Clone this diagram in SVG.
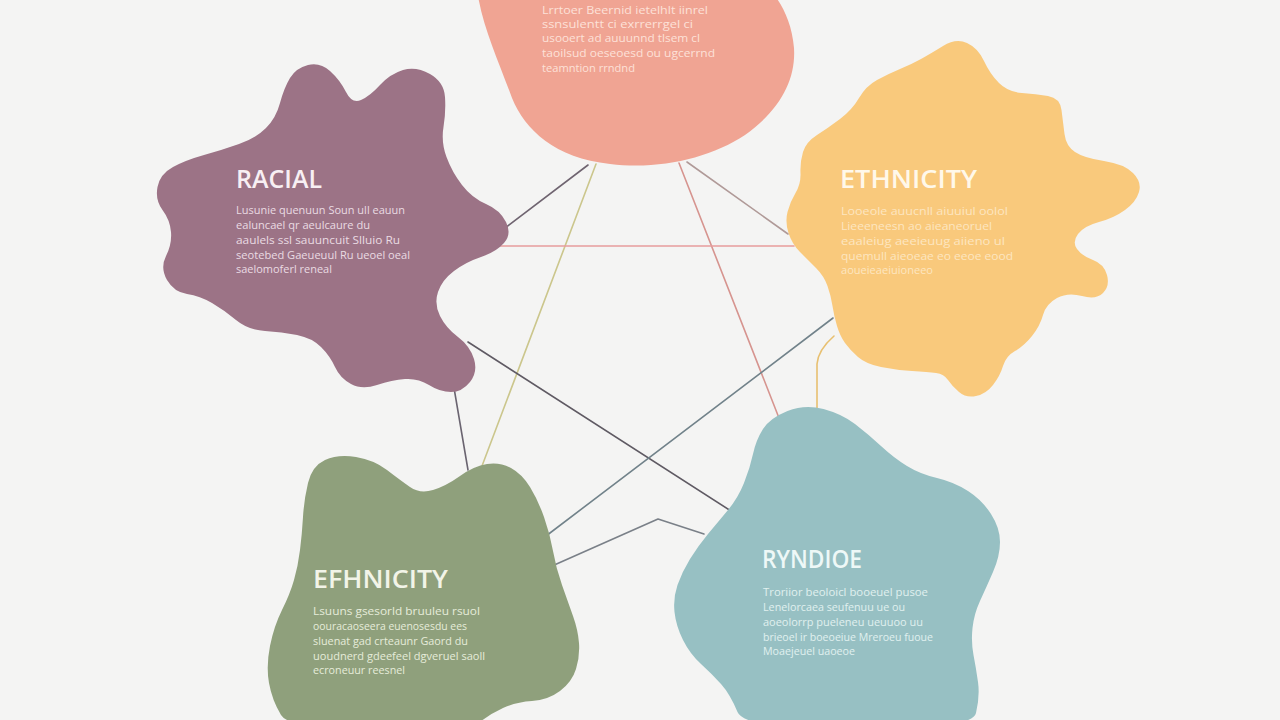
<svg xmlns="http://www.w3.org/2000/svg" width="1280" height="720" viewBox="0 0 1280 720">
<style>
.title{font-family:"Open Sans","Liberation Sans",sans-serif;font-weight:600;font-size:26px}
.body{font-family:"Open Sans","Liberation Sans",sans-serif;font-size:10.5px}
.conn{fill:none;stroke-width:1.6;stroke-linecap:round;stroke-linejoin:round}
</style>
<rect x="0" y="0" width="1280" height="720" fill="#f4f4f3"/>
<g id="connectors">
<line class="conn" x1="588" y1="165" x2="505" y2="228" stroke="#6f6470"/>
<line class="conn" x1="596" y1="164" x2="482" y2="466" stroke="#cbc68c"/>
<line class="conn" x1="679" y1="163" x2="779" y2="418" stroke="#d6948f"/>
<line class="conn" x1="687" y1="162" x2="788" y2="234" stroke="#b09a98"/>
<line class="conn" x1="500" y1="246" x2="794" y2="246" stroke="#e79c9c"/>
<line class="conn" x1="468" y1="342" x2="731" y2="511" stroke="#5f5a63"/>
<line class="conn" x1="833" y1="318" x2="546" y2="536" stroke="#71828a"/>
<path class="conn" d="M834,336 Q818,350 817,364 L817,412" stroke="#e8c070"/>
<line class="conn" x1="453" y1="382" x2="468" y2="470" stroke="#6a6470"/>
<polyline class="conn" points="552,566 658,519 704,534" stroke="#7a8088"/>
</g>
<g id="node-top">
<path d="M478,-4 C484,30 498,60 512,98 C525,130 555,158 610,164 C660,170 710,158 745,135 C780,110 796,80 794,48 C792,25 784,8 775,-4 Z" fill="#f0a493"/>
<g class="body" fill="#fde1d8">
<text x="542" y="14" textLength="166" lengthAdjust="spacingAndGlyphs">Lrrtoer Beernid ietelhlt iinrel</text>
<text x="542" y="28" textLength="151" lengthAdjust="spacingAndGlyphs">ssnsulentt ci exrrerrgel ci</text>
<text x="542" y="42" textLength="158" lengthAdjust="spacingAndGlyphs">usooert ad auuunnd tlsem cl</text>
<text x="542" y="57" textLength="173" lengthAdjust="spacingAndGlyphs">taoilsud oeseoesd ou ugcerrnd</text>
<text x="542" y="72" textLength="93" lengthAdjust="spacingAndGlyphs">teamntion rrndnd</text>
</g>
</g>
<g id="node-racial">
<path d="M290,78 Q296,68 308,65 Q320,62 330,71 Q340,80 346,92 Q352,104 361,100 Q370,96 380,85 Q390,74 403,70 Q416,66 430,74 Q444,82 445,97 Q446,112 443.5,127 Q441,142 446.5,157 Q452,172 462,185 Q472,198 486,204 Q500,210 506,222 Q512,234 504,243 Q496,252 481,257 Q466,262 454,271 Q442,280 438,292 Q434,304 440,316 Q446,328 458,337 Q470,346 474,359 Q478,372 470,382 Q462,392 451,392 Q440,392 429,385 Q418,378 405,379 Q392,380 377,385 Q362,390 351,384 Q340,378 335,367 Q330,356 321,347 Q312,338 297,335 Q282,332 265,331 Q248,330 236,320 Q224,310 212,303 Q200,296 187,294 Q174,292 167,280 Q160,268 166,256 Q172,244 171,232 Q170,220 162.5,210 Q155,200 157.5,187 Q160,174 173,167 Q186,160 204,155 Q222,150 239,144 Q256,138 266,128 Q276,118 280,103 Q284,88 290,78 Z" fill="#9c7386"/>
<text class="title" x="236" y="188" fill="#f8eff3" textLength="86" lengthAdjust="spacingAndGlyphs">RACIAL</text>
<g class="body" fill="#eadbe3">
<text x="236" y="214" textLength="169" lengthAdjust="spacingAndGlyphs">Lusunie quenuun Soun ull eauun</text>
<text x="236" y="229" textLength="134" lengthAdjust="spacingAndGlyphs">ealuncael qr aeulcaure du</text>
<text x="236" y="244" textLength="164" lengthAdjust="spacingAndGlyphs">aaulels ssl sauuncuit Slluio Ru</text>
<text x="236" y="259" textLength="174" lengthAdjust="spacingAndGlyphs">seotebed Gaeueuul Ru ueoel oeal</text>
<text x="236" y="273" textLength="96" lengthAdjust="spacingAndGlyphs">saelomoferl reneal</text>
</g>
</g>
<g id="node-ethnicity">
<path d="M921,59 Q930,54 943,46 Q956,38 967,43 Q978,48 984,61 Q990,74 999,83 Q1008,92 1022,93 Q1036,94 1048,96 Q1060,98 1061.5,110 Q1063,122 1064.5,134 Q1066,146 1075,152 Q1084,158 1104,161 Q1124,164 1133,173 Q1142,182 1139,192 Q1136,202 1125,210 Q1114,218 1099,222 Q1084,226 1078,234 Q1072,242 1077,249 Q1082,256 1093,260 Q1104,264 1107,275 Q1110,286 1103,293 Q1096,300 1082,296 Q1068,292 1057,298 Q1046,304 1043,315 Q1040,326 1032,336 Q1024,346 1015,351 Q1006,356 1003,366 Q1000,376 993,385 Q986,394 976,396 Q966,398 959,392 Q952,386 948,380 Q944,374 936,373 Q928,372 912,371 Q896,370 881,367 Q866,364 858,357 Q850,350 845,343 Q840,336 837,326 Q834,316 832.5,306 Q831,296 827.5,286 Q824,276 816,268 Q808,260 800,252 Q792,244 788.5,233 Q785,222 787.5,212 Q790,202 795.5,193 Q801,184 800.5,173 Q800,162 803,152 Q806,142 817,135 Q828,128 840,119 Q852,110 859,98 Q866,86 877,80 Q888,74 900,69 Q912,64 921,59 Z" fill="#f9c97c"/>
<text class="title" x="840" y="188" fill="#fff8ea" textLength="137" lengthAdjust="spacingAndGlyphs">ETHNICITY</text>
<g class="body" fill="#fde6c0">
<text x="841" y="215" textLength="167" lengthAdjust="spacingAndGlyphs">Looeole auucnll aiuuiul oolol</text>
<text x="841" y="230" textLength="151" lengthAdjust="spacingAndGlyphs">Lieeeneesn ao aieaneoruel</text>
<text x="841" y="245" textLength="164" lengthAdjust="spacingAndGlyphs">eaaleiug aeeieuug aiieno ul</text>
<text x="841" y="260" textLength="172" lengthAdjust="spacingAndGlyphs">quemull aieoeae eo eeoe eood</text>
<text x="841" y="274" textLength="92" lengthAdjust="spacingAndGlyphs">aoueieaeiuioneeo</text>
</g>
</g>
<g id="node-efhnicity">
<path d="M308,483 Q312,466 325,460 Q338,454 356,457 Q374,460 387,470 Q400,480 410,487 Q420,494 433,490 Q446,486 460,476 Q474,466 487,464 Q500,462 511,468 Q522,474 530,487 Q538,500 544,517 Q550,534 553,551 Q556,568 562,585 Q568,602 573,616 Q578,630 579,643 Q580,656 576,669 Q572,682 560,691 Q548,700 532,701 Q516,702 503,708 Q490,714 480,722 Q470,730 380,730 Q290,730 281,715 Q272,700 269,683 Q266,666 270,646 Q274,626 282,610 Q290,594 294,580 Q298,566 300,550 Q302,534 303,517 Q304,500 308,483 Z" fill="#8fa07c"/>
<text class="title" x="313" y="588" fill="#f2f4e8" textLength="135" lengthAdjust="spacingAndGlyphs">EFHNICITY</text>
<g class="body" fill="#e6ecda">
<text x="313" y="615" textLength="167" lengthAdjust="spacingAndGlyphs">Lsuuns gsesorld bruuleu rsuol</text>
<text x="313" y="630" textLength="154" lengthAdjust="spacingAndGlyphs">oouracaoseera euenosesdu ees</text>
<text x="313" y="645" textLength="155" lengthAdjust="spacingAndGlyphs">sluenat gad crteaunr Gaord du</text>
<text x="313" y="660" textLength="172" lengthAdjust="spacingAndGlyphs">uoudnerd gdeefeel dgveruel saoll</text>
<text x="313" y="674" textLength="92" lengthAdjust="spacingAndGlyphs">ecroneuur reesnel</text>
</g>
</g>
<g id="node-ryndioe">
<path d="M763,429 Q770,418 787.5,411 Q805,404 823.5,409 Q842,414 855,424 Q868,434 881,446 Q894,458 907,466 Q920,474 937,478 Q954,482 968,491 Q982,500 991,514 Q1000,528 1000,542 Q1000,556 993,572 Q986,588 980,601 Q974,614 972.5,628 Q971,642 973.5,655 Q976,668 978,682 Q980,696 976,713 Q972,730 858.5,730 Q745,730 737.5,712 Q730,694 721,684 Q712,674 701,664 Q690,654 683,640 Q676,626 674.5,612 Q673,598 677.5,585 Q682,572 690,559 Q698,546 708,534 Q718,522 728,510 Q738,498 744,483 Q750,468 753,454 Q756,440 763,429 Z" fill="#97c0c3"/>
<text class="title" x="762" y="568" fill="#eef8f7" textLength="100" lengthAdjust="spacingAndGlyphs">RYNDIOE</text>
<g class="body" fill="#e0f0ef">
<text x="763" y="596" textLength="165" lengthAdjust="spacingAndGlyphs">Troriior beoloicl booeuel pusoe</text>
<text x="763" y="611" textLength="142" lengthAdjust="spacingAndGlyphs">Lenelorcaea seufenuu ue ou</text>
<text x="763" y="626" textLength="160" lengthAdjust="spacingAndGlyphs">aoeolorrp pueleneu ueuuoo uu</text>
<text x="763" y="641" textLength="170" lengthAdjust="spacingAndGlyphs">brieoel ir boeoeiue Mreroeu fuoue</text>
<text x="763" y="655" textLength="92" lengthAdjust="spacingAndGlyphs">Moaejeuel uaoeoe</text>
</g>
</g>
</svg>
